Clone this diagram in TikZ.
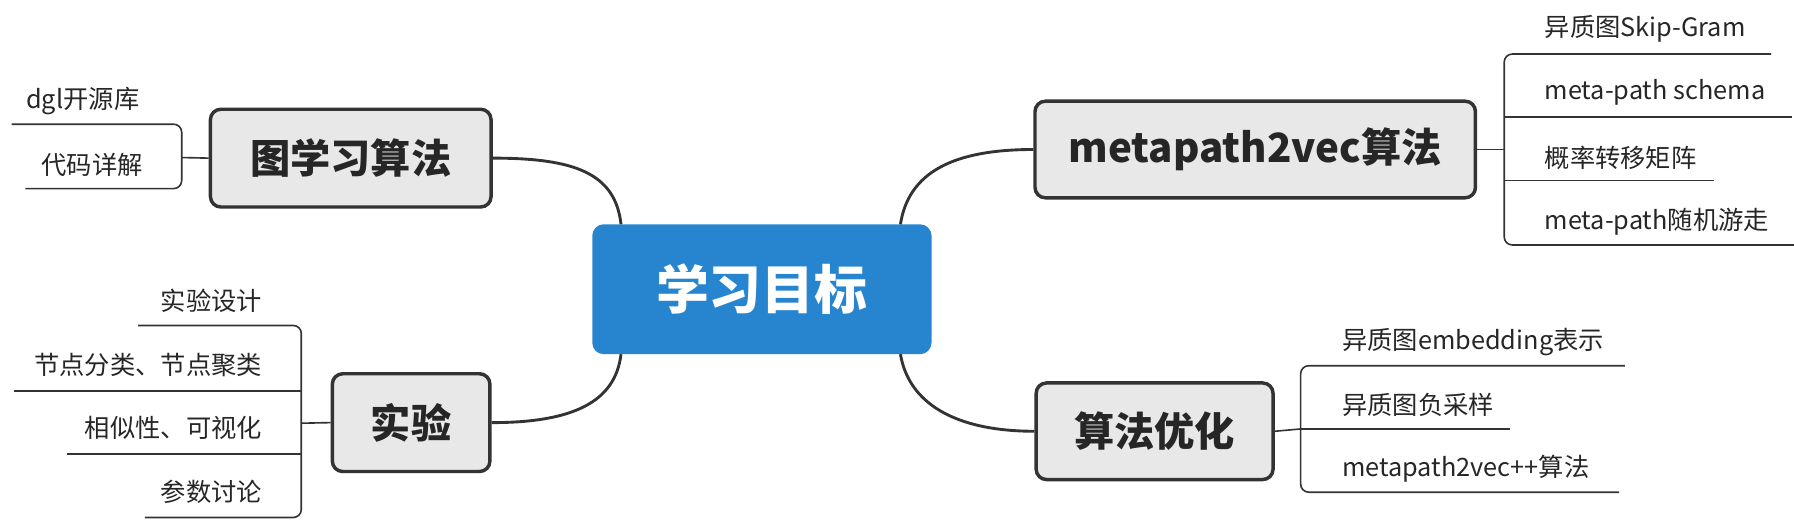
\documentclass[tikz,border=0pt]{standalone}
\usepackage{fontspec}
\setmainfont{Noto Sans CJK SC}
\begin{document}
\begin{tikzpicture}[x=1pt,y=-1pt,
  branch/.style={draw=black!80,line width=3pt,fill=black!9,rounded corners=9pt,inner sep=0pt,font=\fontsize{35}{35}\selectfont\bfseries,text=black!85},
  leaf/.style={inner sep=0pt,font=\fontsize{22}{22}\selectfont,text=black!85},
  link/.style={draw=black!80,line width=2.5pt},
  brk/.style={draw=black!80,line width=1.4pt,rounded corners=7pt}]
\useasboundingbox (0,0) rectangle (1560,460);
\node[fill={rgb,255:red,39;green,133;blue,207},rounded corners=10pt,minimum width=295pt,minimum height=113pt,text=white,font=\fontsize{46}{46}\selectfont\bfseries] (c) at (662.5,251.5) {学习目标};
\node[branch,minimum width=244pt,minimum height=85pt] (a) at (305,137.5) {图学习算法};
\node[branch,minimum width=383pt,minimum height=84pt] (b) at (1091.5,130) {metapath2vec算法};
\node[branch,minimum width=137pt,minimum height=85pt] (e) at (357.5,367.5) {实验};
\node[branch,minimum width=206pt,minimum height=84pt] (d) at (1004,375) {算法优化};
\draw[link] (a.east) .. controls +(70,0) and (535,150) .. (540,195);
\draw[link] (b.west) .. controls +(-70,0) and (790,150) .. (783,195);
\draw[link] (e.east) .. controls +(70,0) and (535,350) .. (540,308);
\draw[link] (d.west) .. controls +(-70,0) and (790,350) .. (783,308);
% left top leaves
\node[leaf] (a1) at (72,88) {dgl开源库};
\node[leaf] (a2) at (80,143) {代码详解};
\draw[brk] (10,108) -- (158,108) -- (158,164) -- (22,164);
\draw[brk] (a.west) -- (158,137);
% right top leaves
\node[leaf,anchor=west] (b1) at (1343,25) {异质图Skip-Gram};
\node[leaf,anchor=west] (b2) at (1343,80) {meta-path schema};
\node[leaf,anchor=west] (b3) at (1343,137) {概率转移矩阵};
\node[leaf,anchor=west] (b4) at (1343,193) {meta-path随机游走};
\draw[brk] (1540,47) -- (1308,47) -- (1308,213) -- (1560,213);
\draw[brk] (1308,102) -- (1558,102);
\draw[brk] (1308,157) -- (1490,157);
\draw[brk] (b.east) -- (1308,130);
% bottom left leaves
\node[leaf,anchor=east] (e1) at (228,262) {实验设计};
\node[leaf,anchor=east] (e2) at (228,317) {节点分类、节点聚类};
\node[leaf,anchor=east] (e3) at (228,372) {相似性、可视化};
\node[leaf,anchor=east] (e4) at (228,428) {参数讨论};
\draw[brk] (120,283) -- (262,283) -- (262,450) -- (126,450);
\draw[brk] (12,340) -- (262,340);
\draw[brk] (58,395) -- (262,395);
\draw[brk] (e.west) -- (262,368);
% bottom right leaves
\node[leaf,anchor=west] (d1) at (1167,297) {异质图embedding表示};
\node[leaf,anchor=west] (d2) at (1167,352) {异质图负采样};
\node[leaf,anchor=west] (d3) at (1167,408) {metapath2vec++算法};
\draw[brk] (1413,318) -- (1131,318) -- (1131,428) -- (1408,428);
\draw[brk] (1131,373) -- (1313,373);
\draw[brk] (d.east) -- (1131,373);
\end{tikzpicture}
\end{document}
